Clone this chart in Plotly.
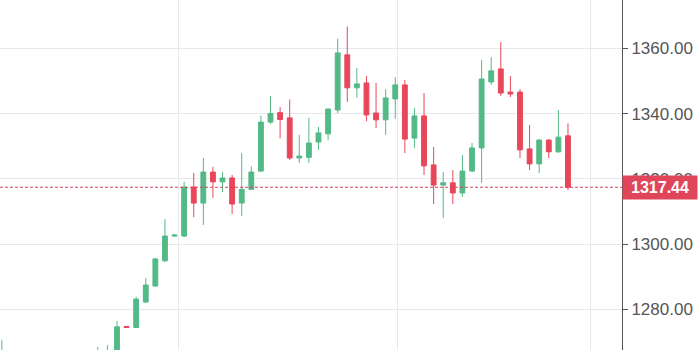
import plotly.graph_objects as go

opens = [1262.0, 1264.0, 1261.0, 1258.0, 1256.0, 1259.0, 1257.0, 1255.0, 1258.0, 1260.0, 1262.0, 1265.0,
         1266.0, 1274.8, 1274.5, 1282.3, 1287.2, 1294.9, 1302.5, 1302.5, 1317.5, 1312.6, 1322.1, 1319.1,
         1320.3, 1312.6, 1316.8, 1322.4, 1337.4, 1340.3, 1338.7, 1326.4, 1326.6, 1331.3, 1333.8, 1341.1,
         1358.0, 1347.9, 1349.4, 1340.2, 1338.1, 1344.5, 1348.8, 1332.5, 1339.3, 1324.3, 1318.1, 1318.8,
         1315.7, 1322.4, 1329.5, 1349.7, 1353.7, 1346.6, 1346.6, 1329.2, 1324.6, 1331.9, 1328.3, 1333.2]
highs = [1270.7, 1266.0, 1263.0, 1260.0, 1261.0, 1262.0, 1259.0, 1260.0, 1262.0, 1264.0, 1268.5, 1269.1,
         1276.5, 1275.0, 1283.9, 1289.6, 1295.8, 1307.7, 1303.0, 1319.1, 1321.8, 1326.4, 1323.7, 1322.1,
         1321.2, 1327.9, 1323.8, 1339.4, 1345.4, 1342.0, 1344.3, 1333.5, 1338.7, 1335.9, 1341.6, 1362.9,
         1366.7, 1354.0, 1351.5, 1349.4, 1347.5, 1351.2, 1350.3, 1341.7, 1346.3, 1329.8, 1322.1, 1322.7,
         1327.3, 1331.0, 1356.4, 1357.3, 1361.9, 1351.5, 1347.5, 1336.5, 1332.2, 1332.2, 1341.1, 1337.0]
lows = [1258.0, 1259.0, 1256.5, 1253.0, 1254.5, 1255.0, 1252.0, 1253.5, 1256.0, 1258.0, 1260.0, 1263.5,
        1265.0, 1274.3, 1274.3, 1282.0, 1287.0, 1294.6, 1302.3, 1302.2, 1308.3, 1305.9, 1314.2, 1316.0,
        1309.3, 1308.6, 1316.6, 1322.1, 1336.8, 1332.4, 1325.8, 1324.9, 1324.9, 1328.9, 1331.9, 1340.2,
        1343.6, 1344.9, 1337.7, 1335.6, 1333.5, 1338.4, 1327.9, 1329.5, 1321.2, 1312.3, 1308.0, 1312.3,
        1314.5, 1322.1, 1318.8, 1348.8, 1345.4, 1345.1, 1326.4, 1322.7, 1321.8, 1326.4, 1328.0, 1316.6]
closes = [1264.0, 1261.0, 1258.0, 1256.0, 1259.0, 1257.0, 1255.0, 1258.0, 1260.0, 1262.0, 1265.0, 1266.0,
          1274.7, 1274.5, 1283.2, 1287.5, 1295.5, 1302.5, 1302.8, 1317.5, 1312.6, 1322.1, 1319.1, 1320.3,
          1312.3, 1316.8, 1322.1, 1337.4, 1340.0, 1338.2, 1326.4, 1327.0, 1331.0, 1334.1, 1341.4, 1358.6,
          1347.9, 1349.1, 1339.6, 1338.1, 1344.8, 1348.8, 1332.2, 1339.3, 1324.0, 1318.1, 1318.8, 1315.7,
          1322.4, 1329.5, 1350.6, 1353.1, 1346.3, 1346.0, 1328.9, 1324.6, 1331.9, 1328.3, 1332.8, 1317.44]
last_price = 1317.44
y_ticks = [1280, 1300, 1320, 1340, 1360]

x = list(range(-12, -12 + len(opens)))

UP = "#53b987"
DOWN = "#e8475a"

fig = go.Figure()
fig.add_trace(go.Candlestick(
    x=x, open=opens, high=highs, low=lows, close=closes,
    increasing=dict(line=dict(color=UP, width=1), fillcolor=UP),
    decreasing=dict(line=dict(color=DOWN, width=1), fillcolor=DOWN),
    whiskerwidth=0,
    showlegend=False, hoverinfo="skip",
))

fig.add_shape(type="line", xref="paper", x0=0, x1=1, yref="y", y0=last_price, y1=last_price,
              line=dict(color="#d9435a", width=1, dash="3px,2px"))

fig.add_annotation(xref="paper", x=1, xanchor="left", yref="y", y=last_price, yanchor="middle",
                   text="<b>%.2f</b>" % last_price, showarrow=False,
                   font=dict(color="white", size=16, family="Liberation Sans, Arial"),
                   bgcolor="#e0455a", width=72, height=21, borderpad=1, align="center")

fig.update_layout(
    width=700, height=350,
    margin=dict(l=0, r=78, t=0, b=0),
    paper_bgcolor="white", plot_bgcolor="white",
    boxgap=0.28,
    xaxis=dict(range=[-12.19, 52.63], tickvals=[6.36, 29.28, 49.3], showticklabels=False,
               showgrid=True, gridcolor="#e6e9ee", gridwidth=1, zeroline=False,
               rangeslider=dict(visible=False), ticks="", showline=False, fixedrange=True),
    yaxis=dict(range=[1267.6, 1374.8], side="right", tickvals=y_ticks, tickformat=".2f",
               showgrid=True, gridcolor="#e6e9ee", gridwidth=1, zeroline=False,
               showline=True, linecolor="#555555", linewidth=1,
               ticks="outside", ticklen=5, tickcolor="#555555",
               tickfont=dict(size=17, color="#555555", family="Liberation Sans, Arial")),
)

fig.write_html("out.html")
